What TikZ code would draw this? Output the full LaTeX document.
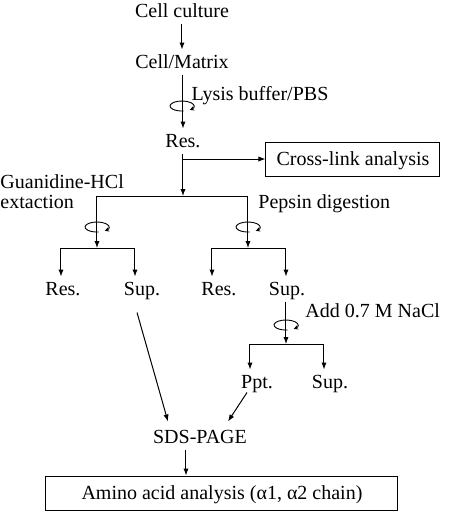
\documentclass[tikz,border=0pt]{standalone}
\usepackage{fontspec}
\setmainfont{Liberation Serif}
\usetikzlibrary{arrows.meta}
\begin{document}
\begin{tikzpicture}[x=0.5pt,y=-0.5pt,
  line width=0.5pt,
  lbl/.style={font=\fontsize{10}{12}\selectfont, inner xsep=0pt, inner ysep=1.5pt, text height=7.5pt, text depth=1.5pt},
  boxnode/.style={draw, line width=0.5pt, font=\fontsize{10}{12}\selectfont, inner sep=0pt, text height=7.5pt, text depth=1.5pt, minimum height=17pt},
  arr/.style={-{Latex[length=3.5pt,width=2.6pt]}},
  spintip/.style={{Stealth[length=2.2pt,width=2.2pt]}-}]
\useasboundingbox (0,0) rectangle (450,511);
\newcommand{\spinmark}[2]{\draw[spintip, line width=0.45pt] ([shift={(50:12 and 5)}]#1,#2) arc[start angle=50, end angle=-278, x radius=12, y radius=5];}

% nodes
\node[lbl, anchor=base] (cc) at (182,17) {Cell culture};
\node[lbl, anchor=base] (cm) at (182,68) {Cell/Matrix};
\node[lbl, anchor=base west] (lys) at (191,100) {Lysis buffer/PBS};
\node[lbl, anchor=base] (res1) at (183,147) {Res.};
\node[boxnode, minimum width=87pt] (cl) at (353,159) {Cross-link analysis};
\node[lbl, anchor=base west] (gu1) at (0,188) {Guanidine-HCl};
\node[lbl, anchor=base west] (gu2) at (0,208) {extaction};
\node[lbl, anchor=base west] (pep) at (258,208) {Pepsin digestion};
\node[lbl, anchor=base] (lres) at (63,295) {Res.};
\node[lbl, anchor=base] (lsup) at (142,295) {Sup.};
\node[lbl, anchor=base] (rres) at (219,295) {Res.};
\node[lbl, anchor=base] (rsup) at (287,295) {Sup.};
\node[lbl, anchor=base west] (nacl) at (305,317) {Add 0.7 M NaCl};
\node[lbl, anchor=base] (ppt) at (257,388) {Ppt.};
\node[lbl, anchor=base] (psup) at (330,388) {Sup.};
\node[lbl, anchor=base] (sds) at (200,443) {SDS-PAGE};
\node[boxnode, minimum width=176pt] (aa) at (222,493) {Amino acid analysis (α1, α2 chain)};

% junction coordinates
\coordinate (j0) at (183,159);
\coordinate (j1) at (183,196);
\coordinate (lj) at (97,196);
\coordinate (rj) at (248,196);
\coordinate (lsp) at (97,248);
\coordinate (rsp) at (248,248);
\coordinate (la) at (61,248);
\coordinate (lb) at (135,248);
\coordinate (ra) at (212,248);
\coordinate (rb) at (286,248);
\coordinate (nj) at (286,344);
\coordinate (na) at (250,344);
\coordinate (nb) at (324,344);

% connectors
\draw[arr] (cc.south) -- (cm.north);
\draw[arr] (cm.south -| res1) ++(0,0) -- (res1.north);
\spinmark{182}{106}
\draw[arr] (res1.south) -- (j1);
\draw[arr] (j0) -- (cl.west);
\draw (lj) -- (rj);
\draw[arr] (lj) -- (lsp);
\draw[arr] (rj) -- (rsp);
\spinmark{97}{227}
\spinmark{248}{227}
\draw (la) -- (lb);
\draw (ra) -- (rb);
\draw[arr] (la) -- (la |- lres.north);
\draw[arr] (lb) -- (lb |- lsup.north);
\draw[arr] (ra) -- (ra |- rres.north);
\draw[arr] (rb) -- (rb |- rsup.north);
\draw[arr] (rsup.south -| nj) -- (nj);
\spinmark{286}{325}
\draw (na) -- (nb);
\draw[arr] (na) -- (na |- ppt.north);
\draw[arr] (nb) -- (nb |- psup.north);
\draw[arr] ([xshift=-2.5pt,yshift=-5.5pt]lsup.south) -- ([xshift=-16pt,yshift=1.5pt]sds.north);
\draw[arr] ([xshift=-5pt,yshift=1pt]ppt.south) -- ([xshift=14pt,yshift=1.5pt]sds.north);
\draw[arr] ([xshift=-7pt]sds.south) -- ([xshift=-7pt]sds.south |- aa.north);
\end{tikzpicture}
\end{document}
